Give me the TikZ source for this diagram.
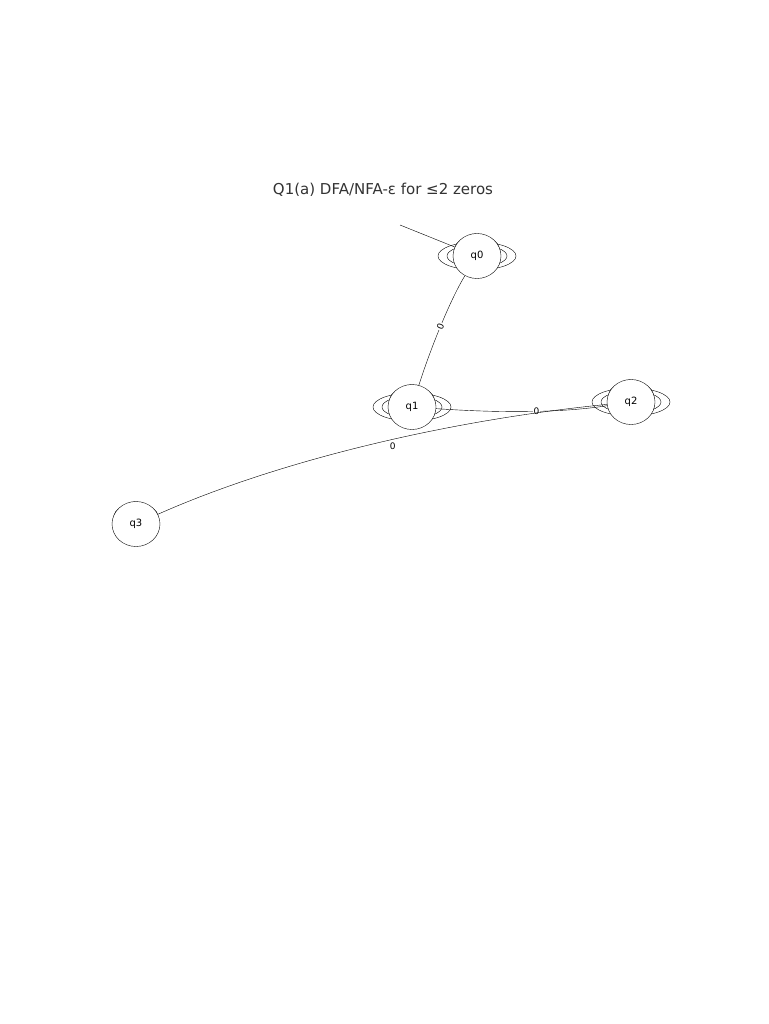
\documentclass[tikz,border=0pt]{standalone}
\usepackage{fontspec}
\setmainfont{DejaVu Sans}
\usetikzlibrary{shapes.geometric}
\tikzset{
  state/.style={draw, ellipse, minimum width=48pt, minimum height=45pt, inner sep=0pt, fill=white, font=\fontsize{10}{12}\selectfont},
  lbl/.style={fill=white, inner sep=1pt, font=\fontsize{9}{11}\selectfont},
}
\newcommand{\sideloops}[1]{%
  \draw (#1) ellipse [x radius=39pt, y radius=14pt];
  \draw (#1) ellipse [x radius=30pt, y radius=11pt];}
\newcommand{\toploop}[1]{%
  \begin{scope}[shift={(#1)}]
  \draw (-22,-6) .. controls (-24,-24) and (24,-24) .. (22,-6);
  \fill (-3,-22.5) -- (3,-20) -- (-3,-17.5) -- cycle;
  \end{scope}}
\begin{document}
\begin{tikzpicture}[x=1pt, y=-1pt]
\fill[white] (0,0) rectangle (768,1024);
\node[text=black!80, font=\fontsize{15}{18}\selectfont] (title) at (383,190) {Q1(a) DFA/NFA-ε for ≤2 zeros};

% loops behind the states
\sideloops{477,256}
\sideloops{412,407}
\sideloops{631,402}
\toploop{477,256}
\toploop{412,407}
\toploop{631,402}
\toploop{136,524}

% states
\node[state] (q0) at (477,256) {q0};
\node[state] (q1) at (412,407) {q1};
\node[state] (q2) at (631,402) {q2};
\node[state] (q3) at (136,524) {q3};

% transitions
\coordinate (start) at (400,225);
\draw (start) -- (q0);
\draw (q0) .. controls (450,300) and (430,350) .. node[lbl, sloped] {0} (q1);
\draw (q1) .. controls (500,413) and (560,413) .. node[lbl, pos=0.55] {0} (q2);
\draw (q2) .. controls (450,420) and (280,460) .. node[lbl, pos=0.45, below=2pt, fill=none] {0} (q3);
\end{tikzpicture}
\end{document}
